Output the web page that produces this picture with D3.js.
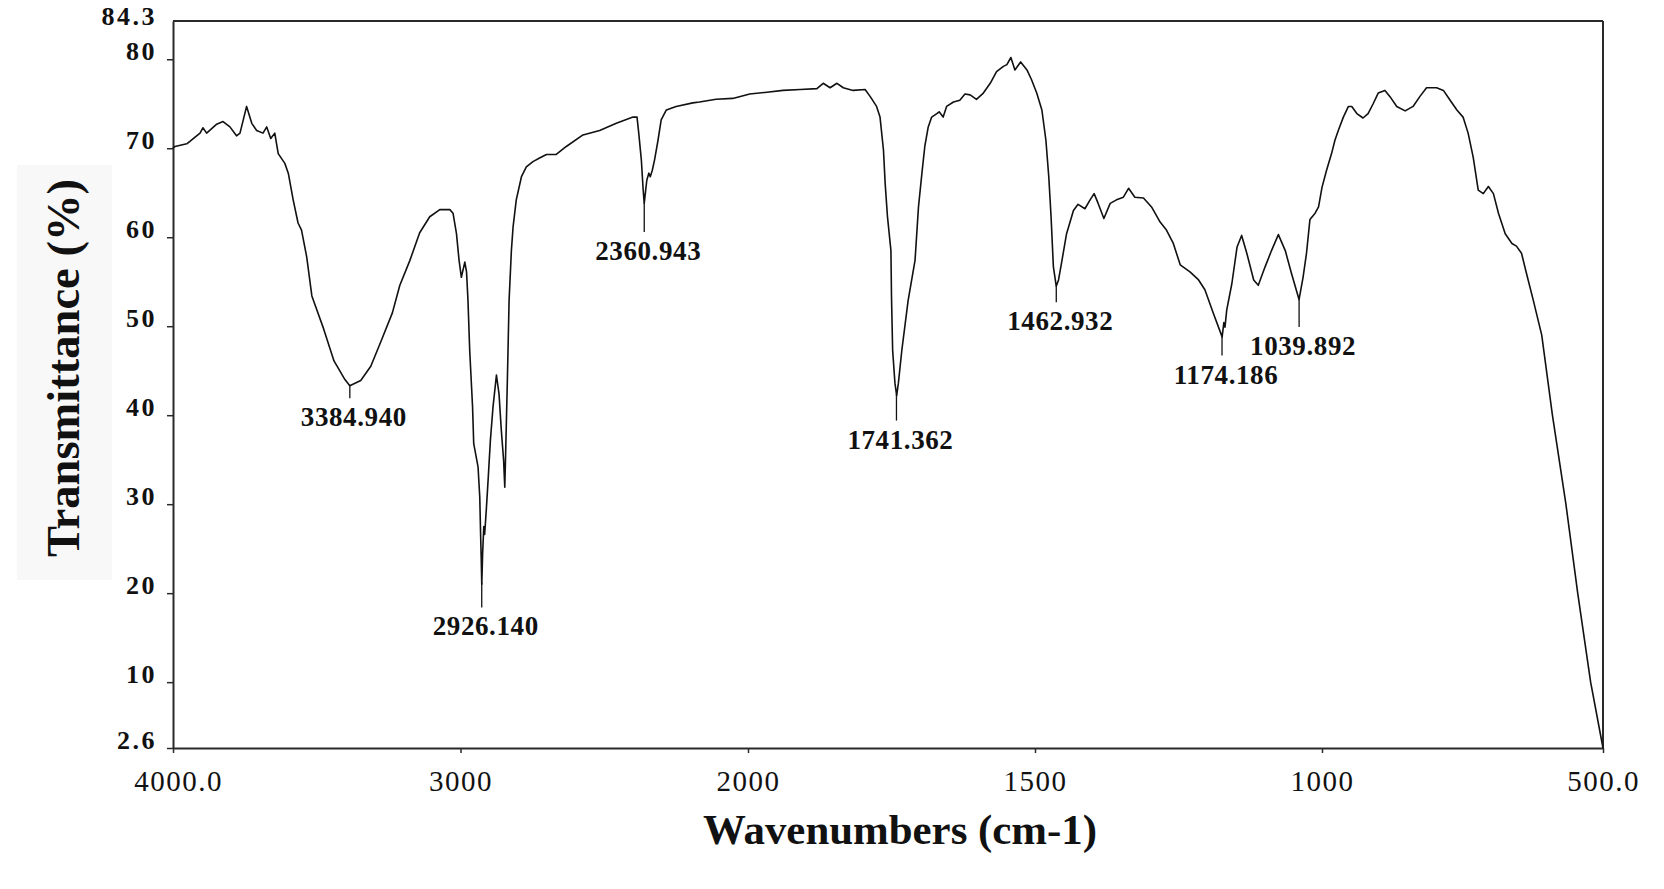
<!DOCTYPE html>
<html>
<head>
<meta charset="utf-8">
<script src="https://cdn.jsdelivr.net/npm/d3@7"></script>
<style>
    body { margin: 0; background: #fff; }
    svg { display: block; }
</style>
</head>
<body>
<div class="vis"></div>
<script>
    // FTIR spectrum
    const wavenumbers = [
        4000, 3993, 3952, 3906, 3896, 3883, 3848, 3826, 3802, 3779, 3767, 3744, 3726, 3709, 3687, 3674,
        3660, 3646, 3634, 3611, 3599, 3582, 3565, 3553, 3535, 3517, 3476, 3440, 3402, 3385, 3347, 3312,
        3274, 3237, 3211, 3176, 3142, 3107, 3072, 3037, 3026, 3014, 3005, 2997, 2985, 2979, 2974, 2968,
        2958, 2954, 2939, 2933, 2930, 2928, 2926, 2923, 2919, 2916, 2910, 2904, 2896, 2887, 2875, 2866,
        2858, 2850, 2846, 2843, 2837, 2831, 2823, 2817, 2806, 2788, 2771, 2748, 2725, 2701, 2667, 2632,
        2574, 2516, 2458, 2400, 2386, 2380, 2371, 2365, 2361, 2352, 2345, 2340, 2333, 2325, 2313, 2302,
        2284, 2250, 2192, 2169, 2111, 2053, 1997, 1967, 1939, 1909, 1880, 1869, 1857, 1845, 1834, 1817,
        1796, 1787, 1776, 1770, 1764, 1761, 1757, 1751, 1750, 1748, 1744, 1741, 1738, 1732, 1721, 1709,
        1703, 1697, 1692, 1686, 1680, 1671, 1667, 1660, 1654, 1642, 1631, 1622, 1613, 1602, 1590, 1578,
        1567, 1555, 1549, 1542, 1535, 1525, 1514, 1506, 1497, 1488, 1481, 1476, 1472, 1468, 1463, 1459,
        1453, 1445, 1433, 1425, 1413, 1404, 1397, 1390, 1380, 1369, 1358, 1346, 1337, 1326, 1311, 1297,
        1282, 1271, 1259, 1247, 1230, 1215, 1204, 1189, 1174, 1171, 1169, 1166, 1157, 1148, 1140, 1131,
        1119, 1111, 1099, 1088, 1076, 1064, 1053, 1040, 1033, 1027, 1021, 1012, 1006, 1000, 992, 983,
        977, 971, 962, 953, 947, 938, 927, 918, 909, 900, 888, 879, 867, 852, 838, 826,
        814, 796, 784, 772, 760, 749, 740, 731, 722, 713, 704, 695, 686, 674, 662, 654,
        645, 636, 624, 609, 590, 566, 545, 522, 500
    ];
    const transmittance = [
        70.0, 70.2, 70.5, 71.7, 72.3, 71.7, 72.7, 73.0, 72.4, 71.4, 71.7, 74.7, 72.8, 72.0, 71.7, 72.4,
        71.1, 71.7, 69.4, 68.3, 67.2, 64.2, 61.6, 60.8, 57.8, 53.4, 49.7, 46.1, 44.0, 43.3, 43.9, 45.5,
        48.5, 51.5, 54.6, 57.4, 60.5, 62.3, 63.1, 63.1, 62.7, 60.4, 57.4, 55.5, 57.2, 56.1, 52.9, 47.3,
        40.9, 36.8, 34.2, 30.8, 26.5, 24.0, 21.0, 24.5, 27.5, 26.6, 29.5, 32.7, 37.2, 40.9, 44.5, 42.4,
        38.3, 34.9, 31.9, 35.7, 43.9, 52.9, 58.5, 61.2, 64.2, 66.8, 67.9, 68.5, 68.9, 69.3, 69.3, 70.2,
        71.5, 72.0, 72.8, 73.5, 73.5, 71.7, 68.7, 65.5, 63.8, 66.4, 67.2, 66.8, 67.5, 68.7, 70.9, 73.2,
        74.3, 74.7, 75.1, 75.2, 75.5, 75.6, 76.1, 76.3, 76.5, 76.6, 76.7, 77.3, 76.8, 77.3, 76.8, 76.5,
        76.6, 75.8, 74.7, 73.5, 69.8, 66.0, 62.3, 58.5, 53.3, 47.3, 43.6, 42.2, 43.6, 47.3, 52.9, 57.4,
        63.4, 67.2, 70.2, 72.4, 73.5, 73.9, 74.1, 73.5, 74.7, 75.2, 75.4, 76.1, 76.0, 75.5, 76.2, 77.3,
        78.6, 79.2, 79.4, 80.2, 78.8, 79.7, 78.8, 77.7, 76.2, 74.3, 70.9, 66.8, 62.3, 56.7, 54.5, 55.2,
        57.4, 60.4, 63.0, 63.7, 63.2, 64.2, 64.9, 63.8, 62.1, 63.8, 64.2, 64.5, 65.5, 64.5, 64.4, 63.4,
        61.7, 60.8, 59.3, 56.9, 56.1, 55.2, 54.1, 51.4, 48.8, 50.4, 49.9, 51.8, 54.8, 58.9, 60.2, 58.2,
        55.2, 54.6, 56.7, 58.5, 60.3, 58.5, 55.9, 53.0, 55.5, 58.2, 62.0, 62.7, 63.4, 65.6, 67.5, 69.4,
        70.9, 72.0, 73.5, 74.7, 74.7, 73.9, 73.4, 73.9, 75.0, 76.2, 76.5, 75.8, 74.7, 74.2, 74.7, 75.8,
        76.8, 76.8, 76.5, 75.4, 74.3, 73.5, 71.7, 69.0, 65.3, 64.9, 65.7, 64.9, 62.7, 60.4, 59.3, 59.0,
        58.2, 55.9, 52.9, 49.0, 40.0, 30.0, 20.0, 10.0, 2.6
    ];

    const peakWavenumbers = [3384.940, 2926.140, 2360.943, 1741.362, 1462.932, 1174.186, 1039.892];
    const peakLabels = ["3384.940", "2926.140", "2360.943", "1741.362", "1462.932", "1174.186", "1039.892"];
    // transmittance where each label's leader line stops
    const peakLabelT = [41.9, 18.4, 60.6, 39.4, 52.7, 46.7, 49.9];

    const xTicks = [4000, 3000, 2000, 1500, 1000, 500];
    const xTickLabels = ["4000.0", "3000", "2000", "1500", "1000", "500.0"];
    const yTicks = [2.6, 10, 20, 30, 40, 50, 60, 70, 80, 84.3];
    const yTickLabels = ["2.6", "10", "20", "30", "40", "50", "60", "70", "80", "84.3"];

    const width = 1664;
    const height = 889;
    const plot = { left: 173, right: 1603, top: 21, bottom: 748 };
    const serif = "'Liberation Serif', 'Times New Roman', serif";
    const axisColor = "#2a2a2a";

    const svg = d3.select(".vis").append("svg")
        .attr("width", width)
        .attr("height", height)
        .style("background", "#fff");

    // the wavenumber axis changes scale at 2000 cm-1, like the instrument software does
    const x = d3.scaleLinear()
        .domain([4000, 2000, 1000, 500])
        .range([plot.left, 748, 1322, plot.right]);

    const y = d3.scaleLinear()
        .domain([2.6, 84.3])
        .range([plot.bottom, plot.top]);

    const spectrum = wavenumbers.map((w, i) => ({ w: w, t: transmittance[i] }));
    const tAt = d3.scaleLinear().domain(wavenumbers).range(transmittance);

    // faint scanned patch behind the y title
    svg.append("rect")
        .attr("x", 17).attr("y", 165)
        .attr("width", 95).attr("height", 415)
        .attr("fill", "#f8f8f8");

    // x axis
    const gx = svg.append("g")
        .attr("transform", `translate(0,${plot.bottom})`)
        .call(d3.axisBottom(x)
            .tickValues(xTicks)
            .tickFormat((d, i) => xTickLabels[i])
            .tickSize(5)
            .tickSizeOuter(0))
        .attr("font-size", null)
        .attr("font-family", null);

    gx.select(".domain").attr("stroke", axisColor).attr("stroke-width", 2);
    gx.selectAll(".tick line").attr("stroke", axisColor).attr("stroke-width", 1.5);
    gx.selectAll(".tick text")
        .attr("x", d => d === 4000 ? 5 : 0)
        .attr("y", 43)
        .attr("dy", null)
        .attr("fill", "#111")
        .style("font-family", serif)
        .style("font-size", "29px")
        .style("letter-spacing", "1.5px");

    // y axis
    const gy = svg.append("g")
        .attr("transform", `translate(${plot.left},0)`)
        .call(d3.axisLeft(y)
            .tickValues(yTicks)
            .tickFormat((d, i) => yTickLabels[i])
            .tickSize(6)
            .tickSizeOuter(0))
        .attr("font-size", null)
        .attr("font-family", null);

    gy.select(".domain").attr("stroke", axisColor).attr("stroke-width", 2);
    gy.selectAll(".tick line")
        .attr("stroke", axisColor)
        .attr("stroke-width", 1.5)
        .attr("display", d => d === 84.3 ? "none" : null);
    gy.selectAll(".tick text")
        .attr("x", -16)
        .attr("y", d => d === 84.3 ? 3 : 0)
        .attr("dy", null)
        .attr("fill", "#111")
        .style("font-family", serif)
        .style("font-weight", "bold")
        .style("font-size", "26px")
        .style("letter-spacing", "2.5px");

    // top and right edges of the frame
    svg.append("line")
        .attr("x1", plot.left).attr("x2", plot.right)
        .attr("y1", plot.top).attr("y2", plot.top)
        .attr("stroke", axisColor).attr("stroke-width", 2);
    svg.append("line")
        .attr("x1", plot.right).attr("x2", plot.right)
        .attr("y1", plot.top).attr("y2", plot.bottom)
        .attr("stroke", axisColor).attr("stroke-width", 2);

    // spectrum
    svg.append("path")
        .datum(spectrum)
        .attr("fill", "none")
        .attr("stroke", "#111")
        .attr("stroke-width", 1.6)
        .attr("stroke-linejoin", "round")
        .attr("d", d3.line().x(d => x(d.w)).y(d => y(d.t)));

    // peak leaders and labels
    const peaks = svg.selectAll(".peak")
        .data(peakWavenumbers)
        .enter().append("g")
        .attr("class", "peak");

    peaks.append("line")
        .attr("x1", d => x(d)).attr("x2", d => x(d))
        .attr("y1", d => y(tAt(d)))
        .attr("y2", (d, i) => y(peakLabelT[i]))
        .attr("stroke", "#111")
        .attr("stroke-width", 1.3);

    peaks.append("text")
        .attr("x", d => x(d) + 4)
        .attr("y", (d, i) => y(peakLabelT[i]) + 28)
        .attr("text-anchor", "middle")
        .attr("fill", "#111")
        .style("font-family", serif)
        .style("font-weight", "bold")
        .style("font-size", "27px")
        .style("letter-spacing", "0.6px")
        .text((d, i) => peakLabels[i]);

    // axis titles
    svg.append("text")
        .attr("x", 900)
        .attr("y", 844)
        .attr("text-anchor", "middle")
        .attr("textLength", 394)
        .attr("lengthAdjust", "spacingAndGlyphs")
        .attr("fill", "#111")
        .style("font-family", serif)
        .style("font-weight", "bold")
        .style("font-size", "43px")
        .text("Wavenumbers (cm-1)");

    svg.append("text")
        .attr("transform", "translate(79,368) rotate(-90)")
        .attr("text-anchor", "middle")
        .attr("textLength", 378)
        .attr("lengthAdjust", "spacingAndGlyphs")
        .attr("fill", "#111")
        .style("font-family", serif)
        .style("font-weight", "bold")
        .style("font-size", "46px")
        .text("Transmittance (%)");
</script>
</body>
</html>
